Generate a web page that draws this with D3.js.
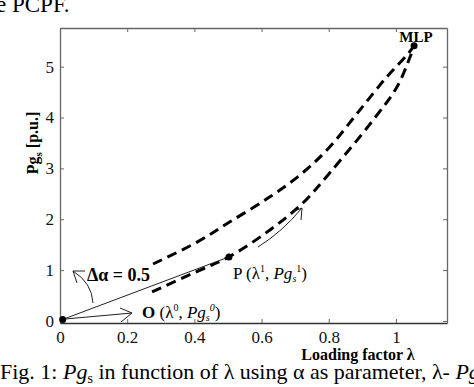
<!DOCTYPE html>
<html>
<head>
<meta charset="utf-8">
<script src="https://cdn.jsdelivr.net/npm/d3@7"></script>
<style>
  body { margin: 0; background: #fff; }
  svg, svg text { font-family: "Times New Roman", Times, "Liberation Serif", Tinos, "Noto Serif", "DejaVu Serif", serif; }
</style>
</head>
<body>
<div class="canvas"></div>
<script>
// data (lambda, Pg_s)
const upperCurve = [[0.277, 1.12], [0.408, 1.55], [0.506, 1.95], [0.625, 2.44], [0.72, 2.90],
  [0.80, 3.40], [0.893, 4.15], [0.973, 4.80], [1.033, 5.23], [1.054, 5.41]];
const lowerCurve = [[0.274, 0.57], [0.40, 0.95], [0.503, 1.26], [0.625, 1.79], [0.723, 2.32],
  [0.804, 2.92], [0.932, 3.95], [1.003, 4.60], [1.042, 5.19], [1.054, 5.41]];
const pointO = [0.008, 0.03];
const pointP = [0.503, 1.26];
const pointMLP = [1.054, 5.41];
const xTicks = [0, 0.2, 0.4, 0.6, 0.8, 1];
const yTicks = [0, 1, 2, 3, 4, 5];

const dims = { width: 474, height: 387 };
const box = { left: 60, right: 447, top: 28, bottom: 323 };
const serif = "'Times New Roman', Times, 'Liberation Serif', Tinos, 'Noto Serif', 'DejaVu Serif', serif";

const svg = d3.select(".canvas").append("svg")
  .attr("width", dims.width)
  .attr("height", dims.height)
  .attr("font-family", serif);

const x = d3.scaleLinear().domain([0, 1.152]).range([box.left, box.right]);
const y = d3.scaleLinear().domain([-0.04, 5.76]).range([box.bottom, box.top]);

// text clipped at the top (from the page above)
svg.append("text")
  .attr("x", -4).attr("y", 12)
  .attr("font-size", 23)
  .text("e PCPF.");

// axes (box with inward ticks)
const axisColor = "#666";
const fmt = d3.format("");

const gx = svg.append("g")
  .attr("transform", `translate(0, ${box.bottom})`)
  .call(d3.axisBottom(x).tickValues(xTicks).tickFormat(fmt).tickSizeInner(-4).tickSizeOuter(0).tickPadding(8));
const gy = svg.append("g")
  .attr("transform", `translate(${box.left}, 0)`)
  .call(d3.axisLeft(y).tickValues(yTicks).tickFormat(fmt).tickSizeInner(-4).tickSizeOuter(0).tickPadding(6));
const gt = svg.append("g")
  .attr("transform", `translate(0, ${box.top})`)
  .call(d3.axisTop(x).tickValues(xTicks).tickFormat("").tickSizeInner(-4).tickSizeOuter(0));
const gr = svg.append("g")
  .attr("transform", `translate(${box.right}, 0)`)
  .call(d3.axisRight(y).tickValues(yTicks).tickFormat("").tickSizeInner(-4).tickSizeOuter(0));

[gx, gy, gt, gr].forEach((g) => {
  g.attr("font-family", serif);
  g.select(".domain").attr("stroke", axisColor).attr("stroke-width", 1.3);
  g.selectAll(".tick line").attr("stroke", axisColor);
  g.selectAll("text")
    .attr("font-size", 17)
    .attr("fill", "#111");
});
gx.select(".domain").attr("stroke", "#333");

// axis labels
svg.append("text")
  .attr("x", 358).attr("y", 360)
  .attr("text-anchor", "middle")
  .attr("font-size", 16)
  .attr("font-weight", "bold")
  .text("Loading factor λ");

const yl = svg.append("text")
  .attr("transform", "translate(38, 143) rotate(-90)")
  .attr("text-anchor", "middle")
  .attr("font-size", 16)
  .attr("font-weight", "bold");
yl.append("tspan").text("Pg");
yl.append("tspan").attr("font-size", 11).attr("dy", 4).text("s");
yl.append("tspan").attr("dy", -4).text(" [p.u.]");

// curves
const line = d3.line()
  .x((d) => x(d[0]))
  .y((d) => y(d[1]))
  .curve(d3.curveCatmullRom);

[upperCurve, lowerCurve].forEach((c) => {
  svg.append("path")
    .attr("d", line(c))
    .attr("fill", "none")
    .attr("stroke", "#000")
    .attr("stroke-width", 3)
    .attr("stroke-dasharray", "10,6");
});

// straight predictor line O -> P
svg.append("line")
  .attr("x1", x(pointO[0])).attr("y1", y(pointO[1]))
  .attr("x2", x(pointP[0])).attr("y2", y(pointP[1]))
  .attr("stroke", "#222")
  .attr("stroke-width", 1);

// points
[pointO, pointP, pointMLP].forEach((p) => {
  svg.append("circle")
    .attr("cx", x(p[0])).attr("cy", y(p[1]))
    .attr("r", 3.5)
    .attr("fill", "#000");
});

// arrows
const thin = (g) => g.attr("fill", "none").attr("stroke", "#222").attr("stroke-width", 1);

// arrow from O
svg.append("path")
  .attr("d", "M65,319 L132,313 M120,308 L132,313 L121,322")
  .call(thin);

// Delta alpha curved arrow
svg.append("path")
  .attr("d", "M93,303 Q92,283 73,271 M85,271 L73,271 L77,283")
  .call(thin);

// arrow after P
svg.append("path")
  .attr("d", "M258,247 Q282,232 302,208 M292,212 L302,208 L301,220")
  .call(thin);

// annotations
const bold = (t, size) => t.attr("font-weight", "bold").attr("font-size", size);

svg.append("text")
  .attr("x", 87).attr("y", 281)
  .call(bold, 18)
  .text("Δα = 0.5");

svg.append("text")
  .attr("x", 416).attr("y", 42)
  .attr("text-anchor", "middle")
  .call(bold, 15)
  .text("MLP");

const to = svg.append("text")
  .attr("x", 142).attr("y", 318)
  .attr("font-size", 17);
to.append("tspan").attr("font-weight", "bold").text("O");
to.append("tspan").text(" (λ");
to.append("tspan").attr("font-size", 10).attr("dy", -7).text("0");
to.append("tspan").attr("dy", 7).text(", ");
to.append("tspan").attr("font-style", "italic").text("Pg");
to.append("tspan").attr("font-style", "italic").attr("font-size", 10).attr("dy", 3).text("s");
to.append("tspan").attr("font-style", "italic").attr("font-size", 10).attr("dy", -10).text("0");
to.append("tspan").attr("dy", 7).text(")");

const tp = svg.append("text")
  .attr("x", 233).attr("y", 279)
  .attr("font-size", 17);
tp.append("tspan").text("P (λ");
tp.append("tspan").attr("font-size", 10).attr("dy", -7).text("1");
tp.append("tspan").attr("dy", 7).text(", ");
tp.append("tspan").attr("font-style", "italic").text("Pg");
tp.append("tspan").attr("font-style", "italic").attr("font-size", 10).attr("dy", 3).text("s");
tp.append("tspan").attr("font-size", 10).attr("dy", -10).text("1");
tp.append("tspan").attr("dy", 7).text(")");

// caption
const cap = svg.append("text")
  .attr("x", 0).attr("y", 379)
  .attr("font-size", 22);
cap.append("tspan").text("Fig. 1: ");
cap.append("tspan").attr("font-style", "italic").text("Pg");
cap.append("tspan").attr("font-size", 14).attr("dy", 4).text("s");
cap.append("tspan").attr("dy", -4).text(" in function of λ using α as parameter, λ- ");
cap.append("tspan").attr("font-style", "italic").text("Pg");
</script>
</body>
</html>
